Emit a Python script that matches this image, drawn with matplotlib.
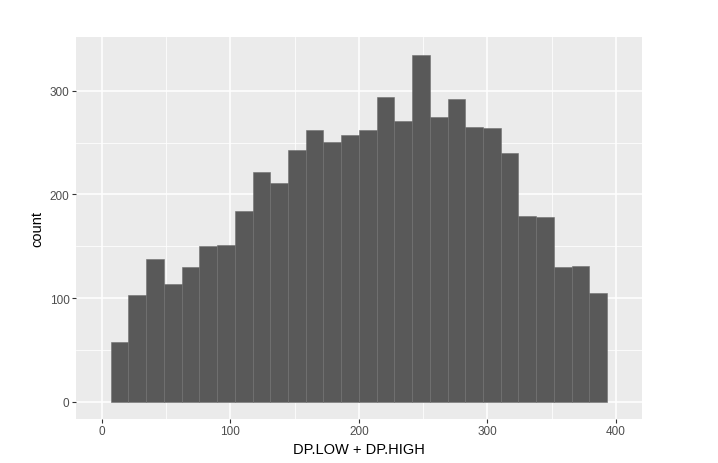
import numpy as np
import matplotlib
matplotlib.use("Agg")
import matplotlib.pyplot as plt

plt.rcParams['font.family'] = ['Liberation Sans', 'DejaVu Sans']

# histogram of DP.LOW + DP.HIGH (28 bins)
bin_start = 7.0
bin_width = 13.79
counts = [58, 103, 138, 114, 130, 150, 151, 184, 222, 211, 243, 262, 251, 257,
          262, 294, 271, 335, 275, 292, 265, 264, 240, 179, 178, 130, 131, 105]
x_ticks = [0, 100, 200, 300, 400]
y_ticks = [0, 100, 200, 300]

edges = bin_start + bin_width * np.arange(len(counts) + 1)

fig = plt.figure(figsize=(7.18, 4.64), dpi=100)
ax = fig.add_axes([0.1058, 0.0948, 0.7879, 0.8227])
ax.set_facecolor('#ebebeb')

ax.bar(edges[:-1], counts, width=bin_width, align='edge',
       color='#595959', edgecolor='#707070', linewidth=0.4, zorder=3)

ax.set_xlim(-20, 420)
ax.set_ylim(-16.75, 351.75)
ax.set_xticks(x_ticks)
ax.set_yticks(y_ticks)
ax.set_xticks([50, 150, 250, 350], minor=True)
ax.set_yticks([50, 150, 250], minor=True)

ax.grid(which='major', color='white', linewidth=1.1, zorder=0)
ax.grid(which='minor', color='white', linewidth=0.55, zorder=0)
ax.set_axisbelow(True)
for s in ax.spines.values():
    s.set_visible(False)

ax.tick_params(which='major', length=2.6, width=0.8, color='#333333',
               labelcolor='#4d4d4d', labelsize=8.5, pad=2)
ax.tick_params(which='minor', length=0)

ax.set_xlabel('DP.LOW + DP.HIGH', fontsize=10.5, color='black', labelpad=3)
ax.set_ylabel('count', fontsize=10.5, color='black', labelpad=4)

fig.savefig('out.png', dpi=100)
